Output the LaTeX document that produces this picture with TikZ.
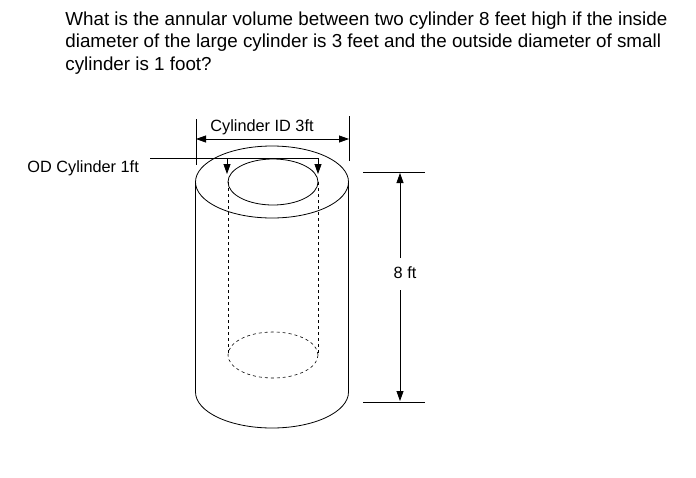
\documentclass[tikz,border=0pt]{standalone}
\usepackage{fontspec}
\setmainfont{Liberation Sans}
\usetikzlibrary{arrows.meta}
\begin{document}
\begin{tikzpicture}[x=1pt,y=-1pt,line width=0.8pt,
  tip/.tip={Triangle[length=10pt,width=7pt]},
  dim/.style={-tip},
  lbl/.style={font=\fontsize{16.3}{18}\selectfont,inner sep=1pt}]
\useasboundingbox (0,0) rectangle (696,477);
\node[anchor=north west,align=left,inner sep=0,font=\fontsize{18.8}{22.5}\selectfont] (title) at (65,11)
 {What is the annular volume between two cylinder 8 feet high if the inside\\diameter of the large cylinder is 3 feet and the outside diameter of small\\cylinder is 1 foot?};
% outer cylinder
\draw (272,182) ellipse [x radius=76.5,y radius=36];
\draw (195.5,182) -- (195.5,392) arc[start angle=180,end angle=0,x radius=76.5,y radius=36] -- (348.5,182);
% inner cylinder
\draw (273,182) ellipse [x radius=45,y radius=23];
\draw[dashed,line width=0.6pt] (228,182) -- (228,355) (318,182) -- (318,355);
\draw[dashed,line width=0.6pt] (273,355) ellipse [x radius=45,y radius=23];
% ID dimension
\coordinate (t1a) at (196,119); \coordinate (t1b) at (196,165);
\coordinate (t2a) at (349,116); \coordinate (t2b) at (349,161);
\draw (t1a) -- (t1b); \draw (t2a) -- (t2b);
\coordinate (ida) at (196,139); \coordinate (idb) at (349,139);
\draw[tip-tip] (ida) -- (idb);
\node[lbl] (idl) at (262,127) {Cylinder ID 3ft};
% OD dimension
\coordinate (odb) at (318,158);
\draw (150,158) -- (odb);
\coordinate (od1) at (227,158); \coordinate (od1e) at (227,174);
\coordinate (od2e) at (318,174);
\draw[dim] (od1) -- (od1e); \draw[dim] (odb) -- (od2e);
\node[lbl,anchor=west] (odl) at (26,168) {OD Cylinder 1ft};
% height dimension
\draw (363,172) -- (425,172); \draw (363,402) -- (425,402);
\node[lbl] (hl) at (405,273) {8 ft};
\coordinate (ha) at (400,173); \coordinate (hb) at (400,401);
\draw[dim] (400,258) -- (ha); \draw[dim] (400,290) -- (hb);
\end{tikzpicture}
\end{document}
